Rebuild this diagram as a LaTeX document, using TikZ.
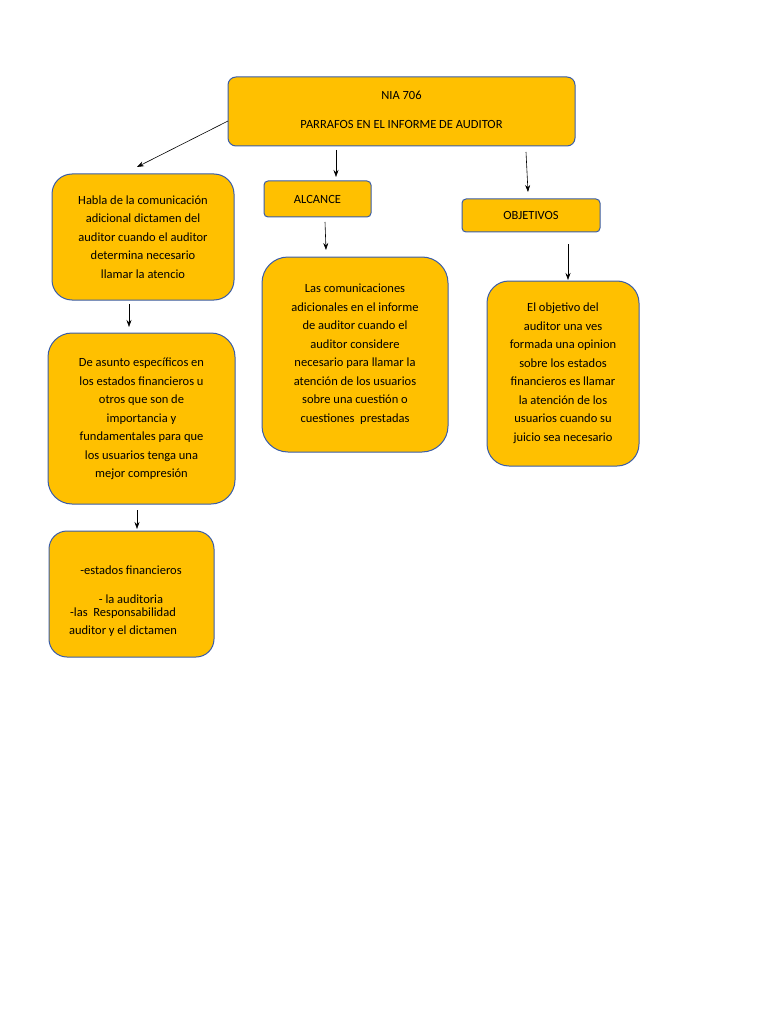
\documentclass[tikz,border=0pt]{standalone}
\usepackage{fontspec}
\setmainfont{Carlito}
\usetikzlibrary{arrows.meta}
\definecolor{boxfill}{HTML}{FFC000}
\definecolor{boxline}{HTML}{3A5DA8}
\begin{document}
\begin{tikzpicture}[x=1pt,y=-1pt,
  bx/.style={draw=boxline,fill=boxfill,line width=1pt,rounded corners=#1,align=center,font=\fontsize{12.5}{18.5}\selectfont},
  bx/.default=14pt,
  arr/.style={-{Stealth[length=7pt,width=5pt]},line width=0.6pt}]
\useasboundingbox (0,0) rectangle (768,1024);
\fill[white] (0,0) rectangle (768,1024);
\draw[bx=8pt] (228,77) rectangle (575,146);
\node[font=\fontsize{12.5}{18.5}\selectfont] (t1) at (401.5,95) {NIA 706};
\node[font=\fontsize{12.5}{18.5}\selectfont] (t2) at (401.5,124) {PARRAFOS EN EL INFORME DE AUDITOR};
\draw[bx=20pt] (52,174) rectangle (234,300);
\node[align=center,font=\fontsize{12.5}{18.5}\selectfont] (l1) at (143,237) {Habla de la comunicación\\adicional dictamen del\\auditor cuando el auditor\\determina necesario\\llamar la atencio};
\draw[bx=4pt] (264,181) rectangle (371,217);
\node[font=\fontsize{12.5}{18.5}\selectfont] (al) at (317.5,199) {ALCANCE};
\draw[bx=4pt] (462,199) rectangle (600,232);
\node[font=\fontsize{12.5}{18.5}\selectfont] (ob) at (531,215.5) {OBJETIVOS};
\draw[bx=24pt] (48,333) rectangle (235,504);
\node[align=center,font=\fontsize{12.5}{18.5}\selectfont] (l2) at (141.5,419) {De asunto específicos en\\los estados financieros u\\otros que son de\\importancia y\\fundamentales para que\\los usuarios tenga una\\mejor compresión};
\draw[bx=26pt] (262,257) rectangle (448,452);
\node[align=center,font=\fontsize{12.5}{18.5}\selectfont] (m1) at (355,354) {Las comunicaciones\\adicionales en el informe\\de auditor cuando el\\auditor considere\\necesario para llamar la\\atención de los usuarios\\sobre una cuestión o\\cuestiones\ \ prestadas};
\draw[bx=22pt] (487,281) rectangle (639,466);
\node[align=center,font=\fontsize{12.5}{18.5}\selectfont] (r1) at (563,373) {El objetivo del\\auditor una ves\\formada una opinion\\sobre los estados\\financieros es llamar\\la atención de los\\usuarios cuando su\\juicio sea necesario};
\draw[bx=18pt] (49,531) rectangle (214,657);
\node[align=center,font=\fontsize{12.5}{28.5}\selectfont] (l3) at (131,594) {-estados financieros\\- la auditoria\\[-10pt]};
\node[align=center,font=\fontsize{12.5}{18.5}\selectfont] (l3b) at (123,622) {-las\ \ Responsabilidad\\auditor y el dictamen};
\foreach \a/\b/\c/\d [count=\i] in {228/121/137/167, 336/150/336/177, 526/152/528/192, 129/304/129/327, 325/222/326/250, 568/244/568/280, 137/510/137/529}{
  \coordinate (s\i) at (\a,\b); \coordinate (e\i) at (\c,\d);
  \draw[arr] (s\i) -- (e\i);}
\end{tikzpicture}
\end{document}
